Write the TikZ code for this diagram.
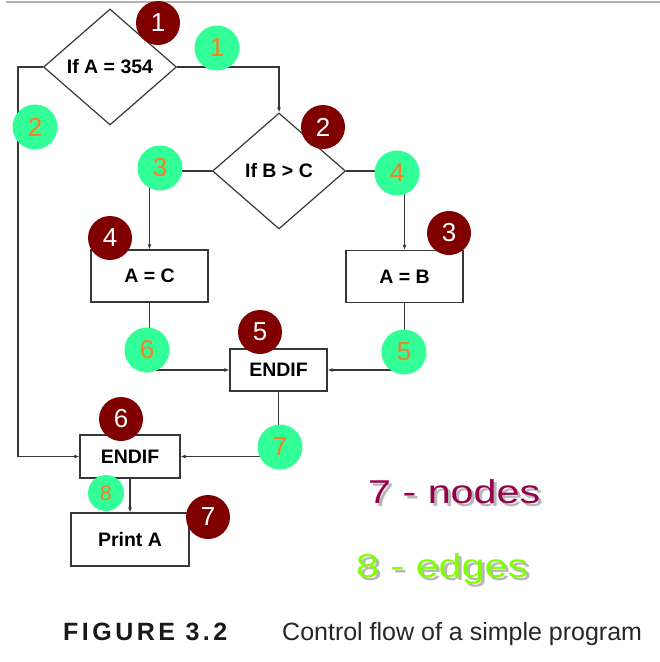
\documentclass[tikz,border=0pt]{standalone}
\usepackage{fontspec}
\setmainfont{Liberation Sans}
\usepackage{xcolor}
\usepackage{tikz}
\usetikzlibrary{calc, positioning, arrows.meta, shapes}
\definecolor{linea}{RGB}{55,55,55}
\definecolor{rojo}{RGB}{128,0,0}
\definecolor{verde}{RGB}{51,255,153}
\definecolor{naranja}{RGB}{250,125,30}
\definecolor{magenta}{RGB}{150,0,75}
\definecolor{lima}{RGB}{128,255,0}

\begin{document}
\begin{tikzpicture}[x=1pt, y=-1pt,
	caja/.style={draw=linea, line width=1.2pt, minimum width=117pt, minimum height=52pt, inner sep=0pt, font=\bfseries\fontsize{19.5}{19.5}\selectfont},
	rombo/.style={draw=linea, line width=1.2pt, diamond, minimum width=133pt, minimum height=116pt, inner sep=0pt, font=\bfseries\fontsize{19.5}{19.5}\selectfont},
	flecha/.style={draw=linea, line width=1.2pt, -{Latex[length=5pt,width=4pt]}},
	nrojo/.style={circle, fill=rojo, text=white, minimum size=44pt, inner sep=0pt, font=\fontsize{26}{26}\selectfont},
	nverde/.style={circle, fill=verde, text=naranja, minimum size=45pt, inner sep=0pt, font=\fontsize{26}{26}\selectfont}]
	\useasboundingbox (0,0) rectangle (660,662);
	\draw[gray!60, line width=1.5pt] (6,2) -- (660,2);
	% nodos %
	\node[rombo] (d1) at (110,67) {If A = 354};
	\node[rombo] (d2) at (279,171) {If B > C};
	\node[caja] (ac) at (149.5,276) {A = C};
	\node[caja] (ab) at (404.5,276.5) {A = B};
	\node[caja, minimum width=97pt, minimum height=42pt] (e1) at (278.5,370) {ENDIF};
	\node[caja, minimum width=100pt, minimum height=43pt] (e2) at (130,456.5) {ENDIF};
	\node[caja, minimum width=118pt, minimum height=53pt] (pa) at (130,539.5) {Print A};
	% conexiones %
	\draw[flecha] (d1.east) -| (d2.north);
	\draw[flecha] (d1.west) -- ++(-25,0) |- (e2.west);
	\draw[flecha] (d2.west) -| (ac.north);
	\draw[flecha] (d2.east) -| (ab.north);
	\draw[flecha] (ab.south) |- (e1.east);
	\draw[flecha] (ac.south) |- (e1.west);
	\draw[flecha] (e1.south) |- (e2.east);
	\draw[flecha] (e2.south) -- (pa.north);
	% numeros de nodos %
	\node[nrojo] (r1) at (158,23) {1};
	\node[nrojo] (r2) at (323,127) {2};
	\node[nrojo] (r3) at (449,233) {3};
	\node[nrojo] (r4) at (110,238) {4};
	\node[nrojo] (r5) at (260,332) {5};
	\node[nrojo] (r6) at (121,419) {6};
	\node[nrojo] (r7) at (208,517) {7};
	% numeros de aristas %
	\node[nverde] (g1) at (217,48) {1};
	\node[nverde] (g2) at (35,127) {2};
	\node[nverde] (g3) at (160,168) {3};
	\node[nverde] (g4) at (397,173) {4};
	\node[nverde] (g5) at (404,352) {5};
	\node[nverde] (g6) at (147,350) {6};
	\node[nverde] (g7) at (280,447) {7};
	\node[nverde, minimum size=36pt, font=\fontsize{21}{21}\selectfont] (g8) at (106,493) {8};
	% totales %
	\node[anchor=base west, inner sep=0pt, text=black!40, opacity=0.7, font=\fontsize{33}{33}\selectfont] (s1) at (371,506) {\scalebox{1.25}[1]{7 - nodes}};
	\node[anchor=base west, inner sep=0pt, text=magenta, font=\fontsize{33}{33}\selectfont] (t1) at (368,503) {\scalebox{1.25}[1]{7 - nodes}};
	\node[anchor=base west, inner sep=0pt, text=black!40, opacity=0.7, font=\fontsize{33}{33}\selectfont] (s2) at (359,580) {\scalebox{1.25}[1]{8 - edges}};
	\node[anchor=base west, inner sep=0pt, text=lima, font=\fontsize{33}{33}\selectfont] (t2) at (356,577) {\scalebox{1.25}[1]{8 - edges}};
	% pie %
	\node[anchor=base west, inner sep=0pt, text=black!90, font=\bfseries\fontsize{25}{25}\selectfont\addfontfeature{LetterSpace=14}] (fig) at (63,640) {FIGURE 3.2};
	\node[anchor=base west, inner sep=0pt, text=black!85, font=\fontsize{25}{25}\selectfont] (cap) at (282,640) {Control flow of a simple program};
\end{tikzpicture}
\end{document}
